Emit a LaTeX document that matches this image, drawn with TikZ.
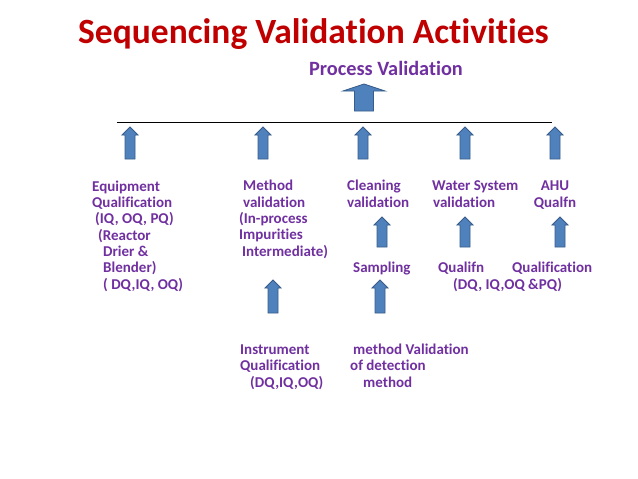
\documentclass[tikz,border=0pt]{standalone}
\usepackage{fontspec}
\setmainfont{Carlito}[Ligatures=NoCommon]
\definecolor{titlered}{HTML}{C00000}
\definecolor{txtpurple}{HTML}{7030A0}
\definecolor{arrfill}{HTML}{4F81BD}
\definecolor{arrline}{HTML}{385D8A}
\tikzset{
  lbl/.style={anchor=base west, inner sep=0pt, align=left, text=txtpurple,
    font=\bfseries\fontsize{15}{16.3}\selectfont},
  blockarrow/.style={fill=arrfill, draw=arrline, line width=0.8pt, line join=miter}
}
\begin{document}
\begin{tikzpicture}[x=1pt,y=-1pt]
  \useasboundingbox[fill=white] (0,0) rectangle (638,479);
  % title
  \node[anchor=base west, inner sep=0pt, text=titlered,
    font=\bfseries\fontsize{35.5}{40}\selectfont] (title) at (78,43) {Sequencing Validation Activities};
  \node[anchor=base, inner sep=0pt, text=txtpurple,
    font=\bfseries\fontsize{20.3}{22}\selectfont] (pv) at (386,75) {Process Validation};
  % big arrow
  \draw[blockarrow] (354.5,111) -- (354.5,91) -- (343,91) -- (364,84) -- (385,91)
    -- (373.5,91) -- (373.5,111) -- cycle;
  \draw[line width=0.8pt] (117,122) -- (552,122);
  % small arrows
  \foreach \x/\yt/\yb in {130/127/159, 263/127/159, 363/127/159, 465/127/159, 555/127/159,
      382/217/247, 465/217/247, 560/217/247, 273/280/313, 380/280/313}
    \draw[blockarrow] (\x-5,\yb) -- (\x-5,\yt+8) -- (\x-8,\yt+8) -- (\x,\yt)
      -- (\x+8,\yt+8) -- (\x+5,\yt+8) -- (\x+5,\yb) -- cycle;
  % labels (multi-line nodes sit on the baseline of their last line)
  \node[lbl] (equip) at (92,289) {Equipment\\Qualification\\\hspace*{3pt}(IQ, OQ, PQ)\\
    \hspace*{6pt}(Reactor\\\hspace*{11pt}Drier \&\\\hspace*{11pt}Blender)\\\hspace*{11pt}( DQ,IQ, OQ)};
  \node[lbl] (method) at (239,256) {\hspace*{4pt}Method\\\hspace*{4pt}validation\\(In-process\\
    Impurities\\\hspace*{3pt}Intermediate)};
  \node[lbl] (clean) at (347,207) {Cleaning\\validation};
  \node[lbl] (water) at (432,207) {Water System\\\hspace*{1pt}validation};
  \node[lbl, anchor=base, align=center] (ahu) at (555,207) {AHU\\Qualfn};
  \node[lbl] (sampling) at (353,272) {Sampling};
  \node[lbl] (wqual) at (438,289) {Qualifn\\\hspace*{15pt}(DQ, IQ,OQ \&PQ)};
  \node[lbl] (ahuqual) at (512,272) {Qualification};
  \node[lbl] (instr) at (240,387) {Instrument\\Qualification\\\hspace*{10pt}(DQ,IQ,OQ)};
  \node[lbl] (detect) at (350,387) {\hspace*{3pt}method Validation\\of detection\\\hspace*{13pt}method};
\end{tikzpicture}
\end{document}
